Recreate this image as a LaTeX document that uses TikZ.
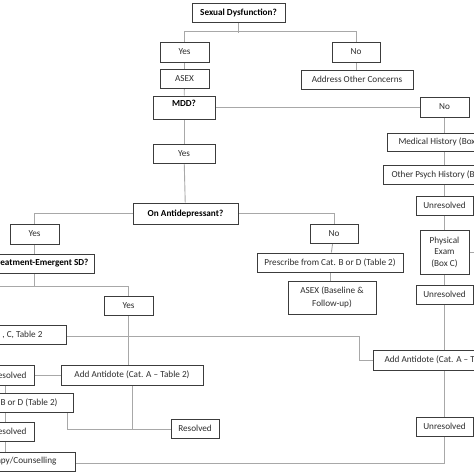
\documentclass[tikz,border=0pt]{standalone}
\usepackage{fontspec}
\setmainfont{Carlito}
\pgfdeclarelayer{bg}
\pgfsetlayers{bg,main}
\newcommand{\lbx}[2]{\makebox[#1][l]{#2}}
\newcommand{\rbx}[2]{\makebox[#1][r]{#2}}
\begin{document}
\begin{tikzpicture}[x=1pt,y=-1pt,
  box/.style={draw=boxc, line width=1pt, rectangle, inner sep=0pt, fill=white,
    text=txtc, font=\fontsize{9.2}{10.5}\selectfont, align=center},
  bbox/.style={box, font=\fontsize{9.2}{10.5}\selectfont\bfseries, text=black},
  conn/.style={draw=linec, line width=0.9pt}]
\definecolor{boxc}{HTML}{3C3C3C}
\definecolor{linec}{HTML}{A8A8A8}
\definecolor{txtc}{HTML}{2E2E2E}
\useasboundingbox (0,0) rectangle (474,474);
\clip (0,0) rectangle (474,474);

% ---------------- boxes ----------------
\node[bbox, minimum width=93pt, minimum height=19pt] (sd) at (238.5,12.5) {Sexual Dysfunction?};
\node[box, minimum width=49pt, minimum height=20pt] (yes1) at (184.5,52) {Yes};
\node[box, minimum width=48pt, minimum height=20pt] (no1) at (356,52) {No};
\node[box, minimum width=49pt, minimum height=19pt] (asex) at (184.5,78.5) {ASEX};
\node[box, minimum width=112pt, minimum height=19pt] (aoc) at (357,79.5) {Address Other Concerns};
\node[bbox, minimum width=62pt, minimum height=23pt, text depth=8pt] (mdd) at (184,107.5) {MDD?};
\node[box, minimum width=49pt, minimum height=20pt] (no2) at (444.5,107) {No};
\node[box, anchor=west, minimum height=18pt, inner xsep=11pt] (medh) at (387,142) {\lbx{100pt}{Medical History (Box A)}};
\node[box, anchor=west, minimum height=19pt, inner xsep=8pt] (opsy) at (383,174.5) {\lbx{110pt}{Other Psych History (Box B)}};
\node[box, minimum width=57pt, minimum height=19pt] (unr1) at (444.5,205.5) {Unresolved};
\node[box, minimum width=49pt, minimum height=44pt] (pex) at (444.5,252) {Physical\\[1pt]Exam\\[1pt](Box C)};
\node[box, minimum width=57pt, minimum height=19pt] (unr2) at (444.5,294.5) {Unresolved};
\node[box, minimum width=62pt, minimum height=19pt] (yes2) at (184,153.5) {Yes};
\node[bbox, minimum width=105pt, minimum height=21pt] (onad) at (185.5,213.5) {On Antidepressant?};
\node[box, minimum width=49pt, minimum height=20pt] (yes3) at (34.5,234) {Yes};
\node[bbox, anchor=east, minimum height=19pt, inner xsep=6pt] (tesd) at (95,263.5) {\rbx{112pt}{Treatment-Emergent SD?}};
\node[box, minimum width=49pt, minimum height=19pt] (yes4) at (128.5,305.5) {Yes};
\node[box, minimum width=48pt, minimum height=19pt] (no3) at (334,233.5) {No};
\node[box, minimum width=146pt, minimum height=19pt] (presc) at (330,262.5) {Prescribe from Cat. B or D (Table 2)};
\node[box, minimum width=88pt, minimum height=33pt] (asexb) at (332,297.5) {ASEX (Baseline \&\\[2pt]Follow-up)};
\node[box, anchor=east, minimum height=19pt, inner xsep=24pt] (ct2) at (67,334.5) {\rbx{60pt}{, C, Table 2}};
\node[box, anchor=west, minimum height=20pt, inner xsep=11pt] (addR) at (373,360) {\lbx{130pt}{Add Antidote (Cat. A -- Table 2)}};
\node[box, minimum width=57pt, minimum height=19pt] (unr3) at (444.5,426.5) {Unresolved};
\node[box, anchor=east, minimum height=20pt, inner xsep=8pt] (unrL1) at (35,375) {\rbx{49pt}{Unresolved}};
\node[box, minimum width=142pt, minimum height=20pt] (addL) at (132,375) {Add Antidote (Cat. A -- Table 2)};
\node[box, anchor=east, minimum height=19pt, inner xsep=16pt] (bdL) at (74,402.5) {\rbx{80pt}{B or D (Table 2)}};
\node[box, anchor=east, minimum height=19pt, inner xsep=8pt] (unrL2) at (35,431.5) {\rbx{49pt}{Unresolved}};
\node[box, minimum width=48pt, minimum height=19pt] (res) at (195,428.5) {Resolved};
\node[box, anchor=east, minimum height=19pt, inner xsep=19pt] (psyL) at (76,461.5) {\rbx{110pt}{Psychotherapy/Counselling}};

% ---------------- connectors ----------------
\coordinate (tesdL) at (-5,286);
\coordinate (ctj) at (359,336);
\coordinate (resj) at (67,429);
\coordinate (pexR) at (480,252);
\coordinate (botR) at (444.5,463);
\coordinate (lx) at (5,0);

\begin{pgfonlayer}{bg}
\draw[conn] (sd.south) -- ++(0,10);
\draw[conn] (yes1.north) -- ++(0,-10) -| (no1.north);
\draw[conn] (yes1) -- (asex);
\draw[conn] (asex) -- (mdd);
\draw[conn] (no1) -- (no1 |- aoc.north);
\draw[conn] (mdd.east) -- (mdd.east -| no2.west);
\draw[conn] (no2.south) -- (botR) -- (botR -| psyL.east);
\draw[conn] (pex.east) -- (pexR);
\draw[conn] (mdd) -- (yes2);
\draw[conn] (yes2) -- (onad);
\draw[conn] (onad.west) -| (yes3.north);
\draw[conn] (onad.east) -| (no3.north);
\draw[conn] (no3) -- (presc);
\draw[conn] (presc) -- (presc.south |- asexb.north);
\draw[conn] (yes3.south) -- (yes3.south |- tesdL);
\draw[conn] (tesdL) -| (yes4.north);
\draw[conn] (yes4.south) -- (yes4.south |- addL.north);
\draw[conn] (ct2.east |- ctj) -- (ctj) |- (addR.west);
\draw[conn] (unrL1.east) -- (addL.west);
\draw[conn] (addL.south) -- (addL.south |- resj);
\draw[conn] (resj |- bdL.south) -- (resj) -- (resj -| res.west);
\draw[conn] (lx |- unrL1.south) -- (lx |- psyL.north);
\end{pgfonlayer}
\end{tikzpicture}
\end{document}
